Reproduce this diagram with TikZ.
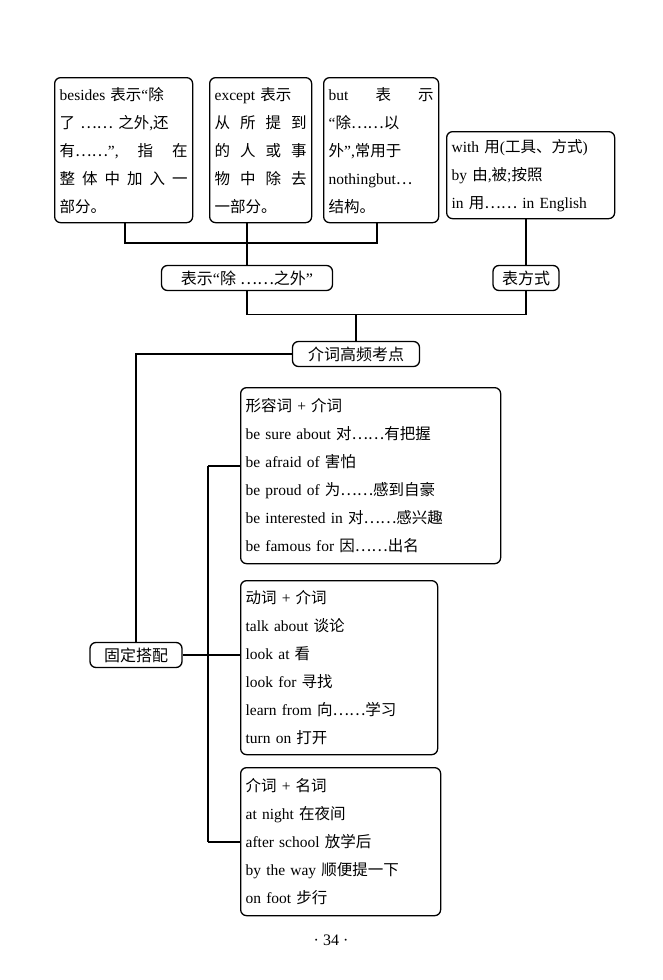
\documentclass[tikz,border=0pt]{standalone}
\usepackage{fontspec}
\setmainfont{Liberation Serif}
\newfontfamily\cjk{Noto Sans CJK SC}
\XeTeXinterchartokenstate=1
\newXeTeXintercharclass\cjkclass
\makeatletter
\count@="4E00
\loop\ifnum\count@<"A000 \XeTeXcharclass\count@=\cjkclass \advance\count@ by 1 \repeat
\count@="3000
\loop\ifnum\count@<"3040 \XeTeXcharclass\count@=\cjkclass \advance\count@ by 1 \repeat
\count@="FF00
\loop\ifnum\count@<"FF60 \XeTeXcharclass\count@=\cjkclass \advance\count@ by 1 \repeat
\XeTeXcharclass"2026=\cjkclass
\makeatother
\XeTeXinterchartoks 0 \cjkclass = {\begingroup\cjk}
\XeTeXinterchartoks 4095 \cjkclass = {\begingroup\cjk}
\XeTeXinterchartoks \cjkclass 0 = {\endgroup}
\XeTeXinterchartoks \cjkclass 4095 = {\endgroup}
\begin{document}
\begin{tikzpicture}[x=1pt,y=-1pt,line width=1.3pt,
  box/.style={draw,rounded corners=6pt,anchor=north west,align=left,inner xsep=5pt,inner ysep=2pt,
    font=\fontsize{15.5}{28}\selectfont},
  tag/.style={draw,rounded corners=6pt,inner sep=1pt,font=\fontsize{16}{18}\selectfont,minimum height=25pt}]
\useasboundingbox (0,0) rectangle (663,980);
\node[box,text width=128pt,minimum height=145pt] (b1) at (54,77) {besides 表示“除\\了 …… 之外,还\\有……”,\hfill 指\hfill 在\\整\hfill 体\hfill 中\hfill 加\hfill 入\hfill 一\\部分。};
\node[box,text width=92pt,minimum height=145pt] (b2) at (209,77) {except 表示\\从\hfill 所\hfill 提\hfill 到\\的\hfill 人\hfill 或\hfill 事\\物\hfill 中\hfill 除\hfill 去\\一部分。};
\node[box,text width=105pt,minimum height=145pt] (b3) at (323,77) {but\hfill 表\hfill 示\\“除……以\\外”,常用于\\nothingbut…\\结构。};
\node[box,text width=158pt,minimum height=87pt] (b4) at (446,131) {with 用(工具、方式)\\by 由,被;按照\\in 用…… in English};
\node[tag,minimum width=171pt] (n1) at (247,278) {表示“除 ……之外”};
\node[tag,minimum width=66pt] (n2) at (526,278) {表方式};
\node[tag,minimum width=127pt] (n3) at (356,354) {介词高频考点};
\node[tag,minimum width=92pt] (n4) at (136,655) {固定搭配};
\node[box,text width=250pt,minimum height=176pt] (b5) at (240,387) {形容词 + 介词\\be sure about 对……有把握\\be afraid of 害怕\\be proud of 为……感到自豪\\be interested in 对……感兴趣\\be famous for 因……出名};
\node[box,text width=187pt,minimum height=174pt] (b6) at (240,580) {动词 + 介词\\talk about 谈论\\look at 看\\look for 寻找\\learn from 向……学习\\turn on 打开};
\node[box,text width=190pt,minimum height=148pt] (b7) at (240,767) {介词 + 名词\\at night 在夜间\\after school 放学后\\by the way 顺便提一下\\on foot 步行};
\node[font=\fontsize{16}{18}\selectfont] (pg) at (331,940) {· 34 ·};
\coordinate (c1) at (125,222);
\coordinate (c2) at (247,222);
\coordinate (c3) at (377,222);
\coordinate (j) at (247,243);
\coordinate (mid) at (356,314);
\coordinate (t5) at (208,466);
\coordinate (t7) at (208,842);
\draw (c1) |- (j) -| (c3);
\draw (c2) -- (n1.north);
\draw (b4.south -| n2) -- (n2.north);
\draw (n1.south) -- ++(0,23) -| (n2.south);
\draw (mid) -- (n3.north);
\draw (n3.west) -| (n4.north);
\draw (n4.east) -- (b6.west |- n4.east);
\draw (t5) -- (t7);
\draw (t5) -- (b5.west |- t5);
\draw (t7) -- (b7.west |- t7);
\end{tikzpicture}
\end{document}
